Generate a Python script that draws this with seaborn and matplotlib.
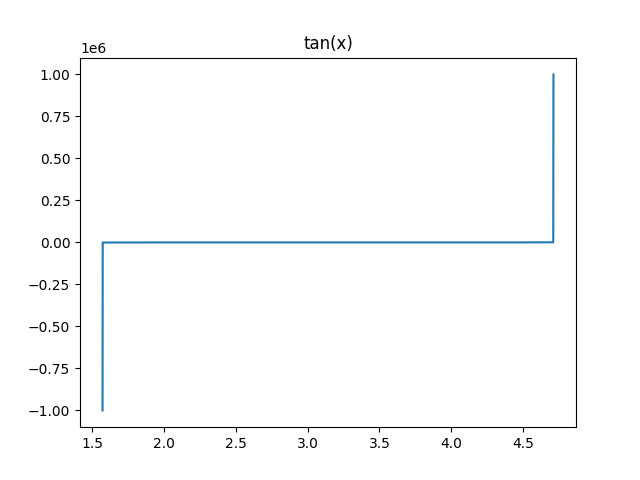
import matplotlib
matplotlib.use("Agg")
import matplotlib.pyplot as plt
import seaborn as sns
import pandas as pd

x_vals = [1.5708, 1.5720, 2.0, 2.5, 3.0, 3.5, 4.0, 4.5, 4.7110, 4.7124]
y_vals = [-1.0e6, -800.0, -2.19, -0.75, -0.14, 0.37, 1.16, 4.64, 700.0, 1.0e6]
title = "tan(x)"

df = pd.DataFrame({"x": x_vals, "y": y_vals})

fig, ax = plt.subplots(figsize=(6.4, 4.8), dpi=100)
sns.lineplot(data=df, x="x", y="y", ax=ax, sort=False, estimator=None, color="#1f77b4")
ax.set_title(title)
ax.set_xlabel("")
ax.set_ylabel("")
fig.savefig("out.png", dpi=100)
